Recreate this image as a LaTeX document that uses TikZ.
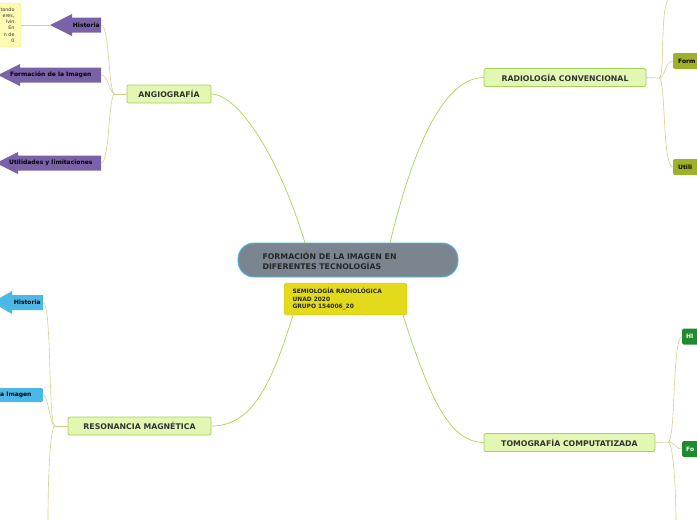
\documentclass[tikz,border=0pt]{standalone}
\usepackage{fontspec}
\setmainfont{DejaVu Sans}
\definecolor{mainfill}{HTML}{E2F7B2}
\definecolor{mainborder}{HTML}{A6D25A}
\definecolor{purp}{HTML}{7A62A8}
\definecolor{bluea}{HTML}{4BB8E6}
\definecolor{olive}{HTML}{A0B02A}
\definecolor{dgreen}{HTML}{1F8A2E}
\definecolor{branch}{HTML}{D4D08A}
\definecolor{link}{HTML}{A8D44E}
\definecolor{cgray}{HTML}{7A8590}
\definecolor{subyel}{HTML}{E4DA1C}
\tikzset{
 mainbox/.style={draw=mainborder,fill=mainfill,rounded corners=2pt,line width=0.8pt,font=\fontsize{7.8}{9}\selectfont\bfseries,text=black!80,inner sep=0pt,minimum height=18pt},
 abody/.style={anchor=east,inner sep=0pt,minimum height=15pt,minimum width=#1,font=\fontsize{6}{7}\selectfont\bfseries,text=black},
 tagbox/.style={rounded corners=1.5pt,inner sep=0pt,minimum height=16pt,anchor=west},
 taglbl/.style={anchor=west,font=\fontsize{6}{7}\selectfont\bfseries,inner sep=0pt},
 br/.style={draw=branch,line width=0.6pt},
 lk/.style={draw=link,line width=0.7pt}
}
\begin{document}
\begin{tikzpicture}[x=1pt,y=-1pt]
\useasboundingbox (0,0) rectangle (697,520);
\clip (0,0) rectangle (697,520);
% center
\node[draw=bluea,line width=0.9pt,fill=cgray,rounded corners=16pt,minimum width=220pt,minimum height=34pt,inner sep=0pt] (c) at (348,260) {};
\node[anchor=west,align=left,font=\fontsize{7.8}{10}\selectfont\bfseries,text=black!85] (ct) at (259,261) {FORMACIÓN DE LA IMAGEN EN\\DIFERENTES TECNOLOGÍAS};
\node[draw=subyel!85!black,fill=subyel,rounded corners=3pt,minimum width=123pt,minimum height=32pt,inner sep=0pt] (s) at (345.5,299) {};
\node[anchor=west,align=left,font=\fontsize{5.9}{7.5}\selectfont\bfseries,text=black!85] (st) at (289,299) {SEMIOLOGÍA RADIOLÓGICA\\UNAD 2020\\GRUPO 154006\_20};
% main topics
\node[mainbox,minimum width=84pt] (ang) at (169,94) {ANGIOGRAFÍA};
\node[mainbox,minimum width=162pt] (rad) at (565,77.5) {RADIOLOGÍA CONVENCIONAL};
\node[mainbox,minimum width=143pt] (res) at (139.5,426) {RESONANCIA MAGNÉTICA};
\node[mainbox,minimum width=171pt] (tom) at (569.5,442.5) {TOMOGRAFÍA COMPUTATIZADA};
% center links
\draw[lk] (305,243) .. controls (280,160) and (240,95) .. (ang.east);
\draw[lk] (390,243) .. controls (410,160) and (440,78) .. (rad.west);
\draw[lk] (293,315) .. controls (270,390) and (250,426) .. (res.east);
\draw[lk] (403,315) .. controls (430,400) and (450,442) .. (tom.west);
% angiografia children (arrows)
\fill[purp] (101,17.5) -- (72,17.5) -- (72,14) -- (50,25) -- (72,36) -- (72,32.5) -- (101,32.5) -- cycle;
\node[abody=29pt] (ah) at (101,25) {Historia\hspace{3pt}};
\fill[purp] (101,67.5) -- (20,67.5) -- (20,64) -- (-2,75) -- (20,86) -- (20,82.5) -- (101,82.5) -- cycle;
\node[abody=100pt] (af) at (101,75) {Formación de la Imagen\hspace{4pt}};
\fill[purp] (101,155.5) -- (18,155.5) -- (18,152) -- (-4,163) -- (18,174) -- (18,170.5) -- (101,170.5) -- cycle;
\node[abody=100pt] (au) at (101,163) {Utilidades y limitaciones\hspace{4pt}};
\node[draw=yellow!60!orange!60,fill=yellow!30,rounded corners=3pt,minimum width=60pt,minimum height=44pt,inner sep=0pt] (an) at (-9,25) {};
\node[anchor=east,align=right,font=\fontsize{4.8}{6.2}\selectfont,text=black!80] (ant) at (18,25) {tando\\eres,\\lvin\\En\\n de\\0};
\coordinate (aj) at (115,94);
\coordinate (ahw) at (50,25);
\draw[br] (ang.west) -- (aj);
\draw[br] (aj) .. controls (108,94) and (110,25) .. (ah.east);
\draw[br] (aj) .. controls (110,94) and (108,75) .. (af.east);
\draw[br] (aj) .. controls (108,94) and (110,163) .. (au.east);
\draw[br] (an.east) -- (ahw);
% resonancia children
\fill[bluea] (43,295) -- (12,295) -- (12,291) -- (-8,302.5) -- (12,314) -- (12,310) -- (43,310) -- cycle;
\node[abody=31pt] (rh) at (43,302.5) {Historia\hspace{3pt}};
\node[tagbox,fill=bluea,minimum width=60pt,minimum height=14pt] (rf) at (-17,395) {};
\node[taglbl] (rft) at (0,395) {a Imagen};
\coordinate (rj) at (55,426);
\coordinate (rb) at (48,520);
\draw[br] (res.west) -- (rj);
\draw[br] (rj) .. controls (48,426) and (52,302) .. (rh.east);
\draw[br] (rj) .. controls (50,426) and (48,395) .. (rf.east);
\draw[br] (rj) .. controls (50,426) and (48,480) .. (rb);
% radiologia children
\node[tagbox,fill=olive,minimum width=40pt] (rf2) at (673,61) {};
\node[taglbl] (rf2t) at (678,61) {Form};
\node[tagbox,fill=olive,minimum width=40pt] (ru) at (673,167) {};
\node[taglbl] (rut) at (678,167) {Utili};
\coordinate (rdj) at (659,78);
\coordinate (rdt) at (668,0);
\draw[br] (rad.east) -- (rdj);
\draw[br] (rdj) .. controls (665,78) and (660,10) .. (rdt);
\draw[br] (rdj) .. controls (666,78) and (664,61) .. (rf2.west);
\draw[br] (rdj) .. controls (666,78) and (662,167) .. (ru.west);
% tomografia children
\node[tagbox,fill=dgreen,minimum width=30pt] (th) at (682,336.5) {};
\node[taglbl,text=white] (tht) at (686,336.5) {HI};
\node[tagbox,fill=dgreen,minimum width=30pt] (tf) at (682,449) {};
\node[taglbl,text=white] (tft) at (686,449) {Fo};
\coordinate (tj) at (668,442);
\coordinate (tb) at (676,520);
\draw[br] (tom.east) -- (tj);
\draw[br] (tj) .. controls (676,442) and (672,337) .. (th.west);
\draw[br] (tj) .. controls (676,442) and (674,449) .. (tf.west);
\draw[br] (tj) .. controls (674,442) and (676,500) .. (tb);
\end{tikzpicture}
\end{document}
